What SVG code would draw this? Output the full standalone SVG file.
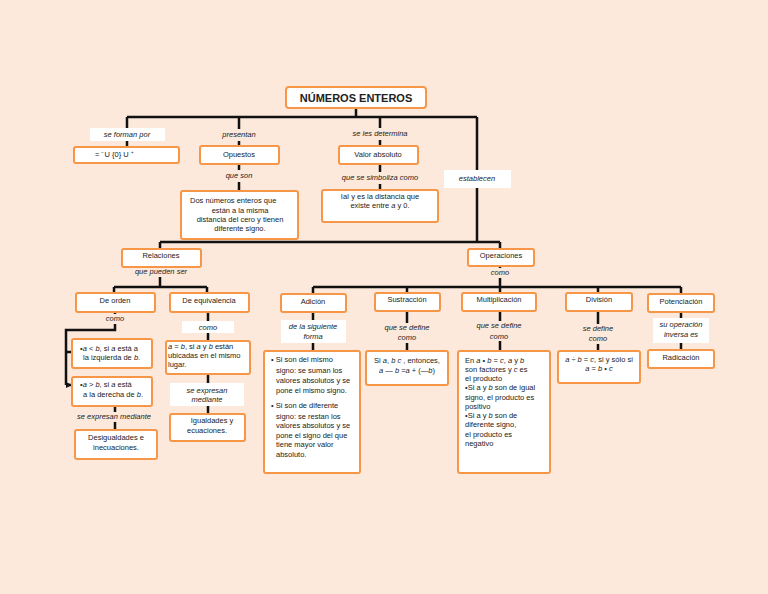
<svg xmlns="http://www.w3.org/2000/svg" width="768" height="594" viewBox="0 0 768 594">
<style>
.b{fill:#fff;stroke:#f79646;stroke-width:2}
.w{fill:#fff}
.g{fill:#fde9db}
text{font-family:"Liberation Sans",Arial,sans-serif;font-size:7.5px;fill:#222}
.c{text-anchor:middle}
.i{font-style:italic}
.l{stroke:#111;stroke-width:2.5;fill:none}
</style>
<defs><marker id="a" markerUnits="userSpaceOnUse" markerWidth="6" markerHeight="6" refX="5" refY="3" orient="auto"><path d="M0,0L6,3L0,6z" fill="#111"/></marker></defs>
<rect width="768" height="594" fill="#fde9db"/>
<g id="connectors">
<path class="l" d="M356,108V117M127,117H477M127,117V147M239,117V146M380,117V146M477,117V242M239,164V191M380,164V190M160,242H500M160,242V249M500,242V249M160,267V287M114,287H207M114,287V293M207,287V293M115,312V330H66V385M208,312V341M208,374V414M115,406V430M500,266V287M313,287H681M313,287V294M407,287V293M500,287V293M598,287V293M681,287V294M313,312V351M407,311V351M500,311V351M598,311V351M681,312V350"/>
<path class="l" d="M66,352H71M66,385H71" marker-end="url(#a)"/>
</g>
<g id="title"><rect class="b" x="286" y="87" width="140" height="21" rx="3"/><text class="c" x="356" y="102" style="font-size:11px;font-weight:bold">NÚMEROS ENTEROS</text></g>
<g id="lab-top">
<rect class="w" x="90" y="128" width="75" height="13"/><text class="c i" x="127" y="137">se forman por</text>
<rect class="g" x="218" y="129" width="42" height="12"/><text class="c i" x="239" y="137">presentan</text>
<rect class="g" x="348" y="128" width="64" height="12"/><text class="c i" x="380" y="136">se les determina</text>
<rect class="g" x="222" y="170" width="34" height="12"/><text class="c i" x="239" y="178">que son</text>
<rect class="g" x="338" y="172" width="84" height="12"/><text class="c i" x="380" y="180">que se simboliza como</text>
<rect class="w" x="444" y="170" width="67" height="18"/><text class="c i" x="477" y="181">establecen</text>
</g>
<g id="conj"><rect class="b" x="74" y="147" width="105" height="16" rx="2"/><text x="95" y="157">=  ⁻U {0} U  ⁺</text></g>
<g id="opuestos"><rect class="b" x="200" y="146" width="79" height="18" rx="2"/><text class="c" x="239" y="157">Opuestos</text></g>
<g id="opdef"><rect class="b" x="181" y="191" width="117" height="48" rx="2"/><text x="190" y="203">Dos números enteros que</text><text class="c" x="240" y="213">están a la misma</text><text class="c" x="240" y="222">distancia del cero y tienen</text><text class="c" x="240" y="231">diferente signo.</text></g>
<g id="valor"><rect class="b" x="339" y="146" width="79" height="18" rx="2"/><text class="c" x="378" y="157">Valor absoluto</text></g>
<g id="valdef"><rect class="b" x="322" y="190" width="116" height="32" rx="2"/><text class="c" x="380" y="199">IaI y es la distancia que</text><text class="c" x="380" y="208">existe entre <tspan class="i">a</tspan> y 0.</text></g>
<g id="relaciones"><rect class="b" x="122" y="249" width="79" height="18" rx="2"/><text class="c" x="161" y="258">Relaciones</text><rect class="g" x="132" y="268" width="58" height="9"/><text class="c i" x="161" y="274">que pueden ser</text></g>
<g id="operaciones"><rect class="b" x="468" y="249" width="66" height="17" rx="2"/><text class="c" x="501" y="258">Operaciones</text><rect class="g" x="488" y="268" width="24" height="10"/><text class="c i" x="500" y="275">como</text></g>
<g id="orden"><rect class="b" x="76" y="293" width="79" height="19" rx="2"/><text class="c" x="115" y="303">De orden</text><rect class="g" x="103" y="314" width="24" height="10"/><text class="c i" x="115" y="321">como</text></g>
<g id="menor"><rect class="b" x="72" y="339" width="80" height="29" rx="2"/><text x="80" y="351">•<tspan class="i">a</tspan> &lt; <tspan class="i">b</tspan>, si <tspan class="i">a</tspan> está a</text><text x="83" y="360">la izquierda de <tspan class="i">b</tspan>.</text></g>
<g id="mayor"><rect class="b" x="72" y="377" width="80" height="29" rx="2"/><text x="80" y="387">•<tspan class="i">a</tspan> &gt; <tspan class="i">b</tspan>, si <tspan class="i">a</tspan> está</text><text x="83" y="397">a la derecha de <tspan class="i">b</tspan>.</text></g>
<rect class="g" x="74" y="412" width="80" height="10"/><text class="c i" x="114" y="419">se expresan mediante</text>
<g id="desig"><rect class="b" x="75" y="430" width="82" height="29" rx="2"/><text class="c" x="116" y="440">Desigualdades e</text><text class="c" x="116" y="450">inecuaciones.</text></g>
<g id="equiv"><rect class="b" x="170" y="293" width="79" height="19" rx="2"/><text class="c" x="209" y="303">De equivalencia</text></g>
<rect class="w" x="182" y="321" width="52" height="12"/><text class="c i" x="208" y="330">como</text>
<g id="igual"><rect class="b" x="166" y="341" width="84" height="33" rx="2"/><text x="168" y="349"><tspan class="i">a</tspan> = <tspan class="i">b</tspan>, si <tspan class="i">a</tspan> y <tspan class="i">b</tspan> están</text><text x="168" y="358">ubicadas en el mismo</text><text x="168" y="367">lugar.</text></g>
<rect class="w" x="170" y="383" width="74" height="23"/><text class="c i" x="207" y="393">se expresan</text><text class="c i" x="207" y="402">mediante</text>
<g id="igualdades"><rect class="b" x="170" y="414" width="75" height="27" rx="2"/><text class="c" x="212" y="423">Igualdades  y</text><text class="c" x="207" y="433">ecuaciones.</text></g>
<g id="adicion"><rect class="b" x="281" y="294" width="65" height="18" rx="2"/><text class="c" x="313" y="304">Adición</text>
<rect class="w" x="281" y="320" width="65" height="23"/><text class="c i" x="313" y="329">de la siguiente</text><text class="c i" x="313" y="339">forma</text></g>
<g id="adef"><rect class="b" x="264" y="351" width="96" height="122" rx="2"/>
<text x="271" y="362">• Si son del mismo</text><text x="276" y="373">signo: se suman los</text><text x="276" y="383">valores absolutos y se</text><text x="276" y="393">pone el mismo signo.</text>
<text x="271" y="408">• Si son de diferente</text><text x="276" y="419">signo: se restan los</text><text x="276" y="428">valores absolutos y se</text><text x="276" y="438">pone el signo del que</text><text x="276" y="447">tiene mayor valor</text><text x="276" y="457">absoluto.</text></g>
<g id="sustraccion"><rect class="b" x="375" y="293" width="65" height="18" rx="2"/><text class="c" x="407" y="302">Sustracción</text><rect class="g" x="381" y="323" width="52" height="20"/><text class="c i" x="407" y="330">que se define</text><text class="c i" x="407" y="340">como</text></g>
<g id="sdef"><rect class="b" x="366" y="351" width="82" height="34" rx="2"/><text class="c" x="407" y="363">Si <tspan class="i">a</tspan>, <tspan class="i">b</tspan> <tspan class="i">c</tspan>   , entonces,</text><text class="c" x="407" y="373"><tspan class="i">a</tspan> — <tspan class="i">b</tspan> =<tspan class="i">a</tspan> + (—<tspan class="i">b</tspan>)</text></g>
<g id="multiplicacion"><rect class="b" x="462" y="293" width="74" height="18" rx="2"/><text class="c" x="499" y="302">Multiplicación</text><rect class="g" x="473" y="321" width="52" height="20"/><text class="c i" x="499" y="328">que se define</text><text class="c i" x="499" y="339">como</text></g>
<g id="mdef"><rect class="b" x="458" y="351" width="92" height="122" rx="2"/>
<text x="465" y="363">En <tspan class="i">a</tspan> • <tspan class="i">b</tspan> = <tspan class="i">c</tspan>, <tspan class="i">a</tspan> y <tspan class="i">b</tspan></text><text x="465" y="372">son factores y <tspan class="i">c</tspan> es</text><text x="465" y="381">el producto</text><text x="465" y="390">•Si a y <tspan class="i">b</tspan> son de igual</text><text x="465" y="400">signo, el producto  es</text><text x="465" y="409">positivo</text><text x="465" y="418">•Si a y <tspan class="i">b</tspan> son de</text><text x="465" y="427">diferente signo,</text><text x="465" y="437"> el producto es</text><text x="465" y="446">negativo</text></g>
<g id="division"><rect class="b" x="566" y="293" width="66" height="18" rx="2"/><text class="c" x="599" y="302">División</text><rect class="g" x="578" y="324" width="40" height="20"/><text class="c i" x="598" y="331">se define</text><text class="c i" x="598" y="341">como</text></g>
<g id="ddef"><rect class="b" x="558" y="351" width="82" height="32" rx="2"/><text class="c" x="599" y="362"><tspan class="i">a</tspan> ÷ <tspan class="i">b</tspan> = <tspan class="i">c</tspan>, si y sólo si</text><text class="c" x="599" y="371"><tspan class="i">a</tspan> = <tspan class="i">b</tspan> • <tspan class="i">c</tspan></text></g>
<g id="potenciacion"><rect class="b" x="648" y="294" width="66" height="18" rx="2"/><text class="c" x="681" y="304">Potenciación</text>
<rect class="w" x="653" y="318" width="56" height="25"/><text class="c i" x="681" y="327">su operación</text><text class="c i" x="681" y="337">inversa es</text></g>
<g id="radicacion"><rect class="b" x="648" y="350" width="66" height="18" rx="2"/><text class="c" x="681" y="360">Radicación</text></g>
</svg>
